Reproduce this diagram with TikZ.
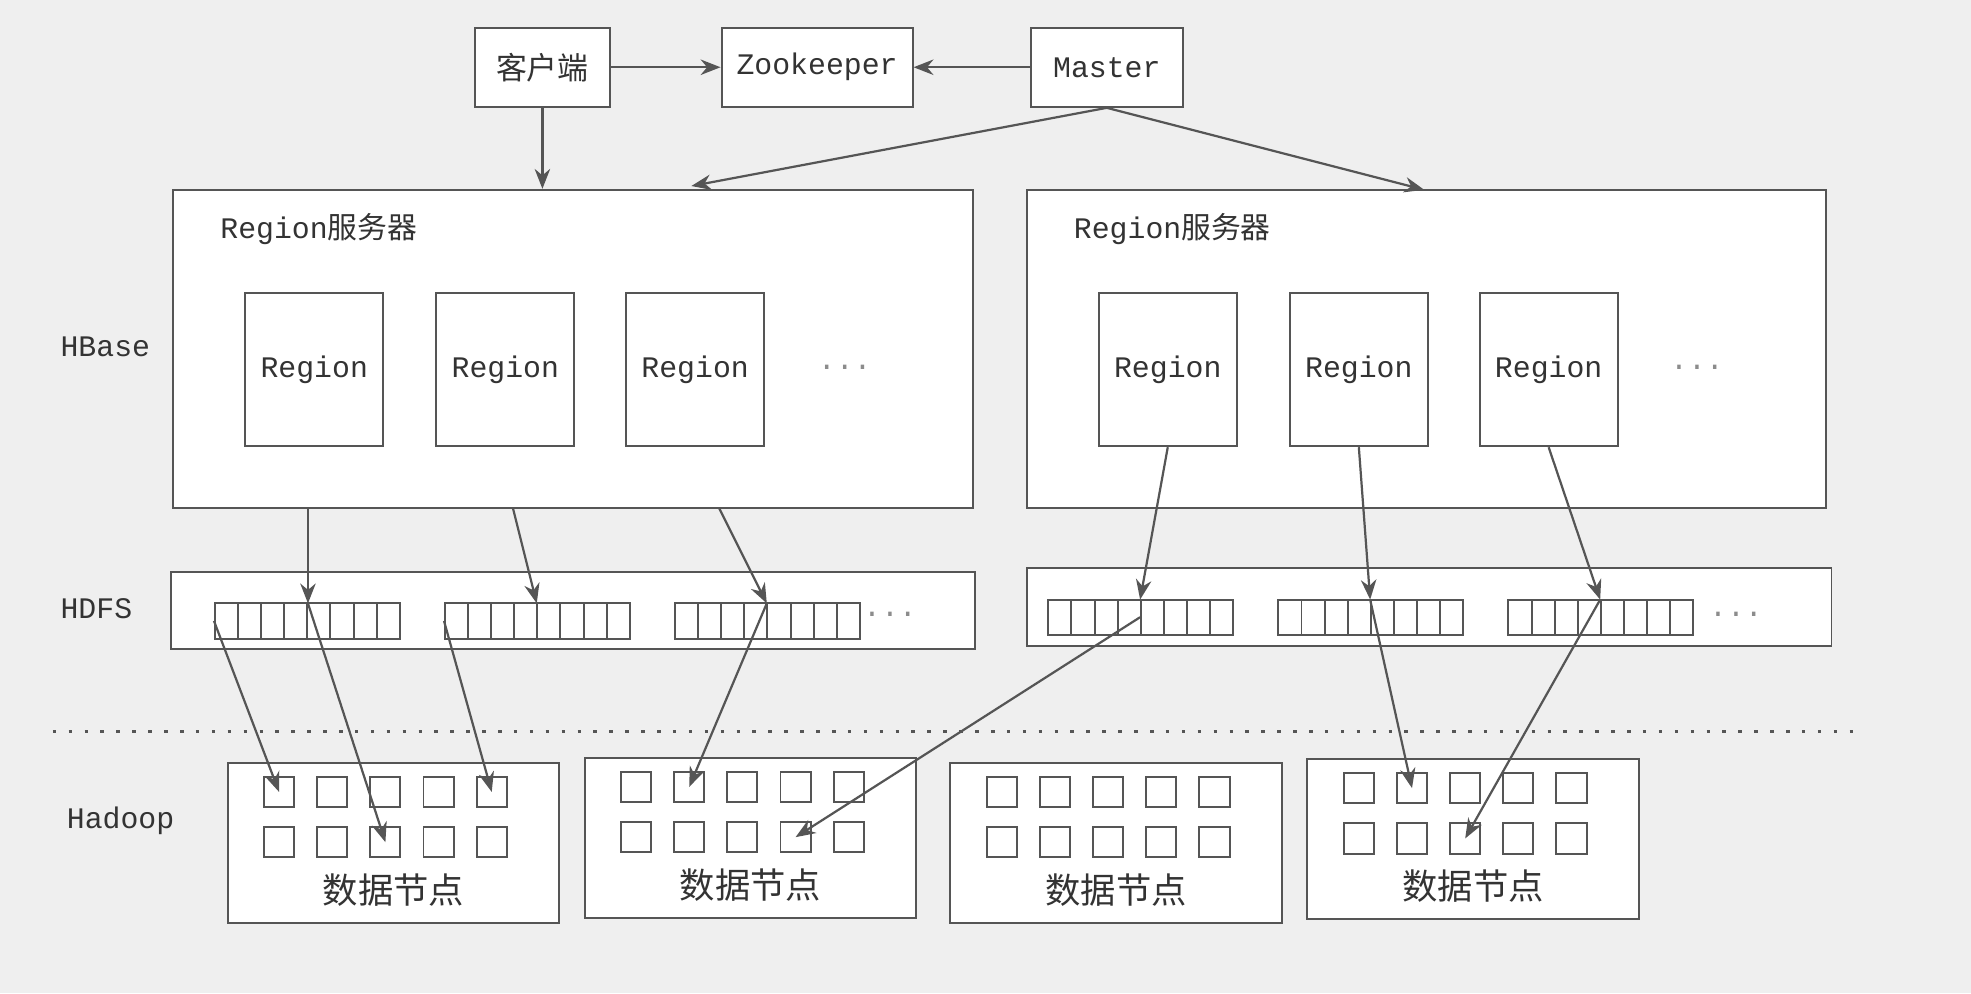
\documentclass[tikz,border=0pt]{standalone}
\usepackage{fontspec}
\setmainfont{Liberation Mono}
\newfontfamily\cjk{Noto Sans CJK SC}
\usetikzlibrary{arrows.meta}
\definecolor{ln}{HTML}{555555}
\definecolor{bg}{HTML}{EFEFEF}
\begin{document}
\begin{tikzpicture}[x=0.02cm,y=-0.02cm,
  box/.style={draw=ln,fill=white,line width=0.9pt,inner sep=0pt},
  txt/.style={font=\fontsize{13.5}{15}\selectfont,text=black!80},
  ctxt/.style={font=\cjk\fontsize{14}{16}\selectfont,text=black!80},
  arr/.style={draw=ln,line width=1pt,-{Stealth[length=9pt,width=7pt]}},
  cell/.style={draw=ln,line width=0.9pt}]
\fill[bg] (0,0) rectangle (1568,790);
\newcommand\bx[6]{\node[box,minimum width={(#4-#2)*0.02cm},minimum height={(#5-#3)*0.02cm},#6] (#1) at ({(#2+#4)/2},{(#3+#5)/2}) {};}
% top row
\bx{cli}{378}{22}{485}{85}{}
\node[ctxt] at (cli) {客户端};
\bx{zk}{574}{22}{726}{85}{}
\node[txt] at (zk) {Zookeeper};
\bx{ms}{820}{22}{941}{85}{}
\node[txt] at (ms) {Master};
% region servers
\bx{rs1}{138}{151}{774}{404}{}
\bx{rs2}{817}{151}{1453}{404}{}
\node[txt,anchor=west,inner sep=0pt] at (175,182) {Region{\cjk 服务器}};
\node[txt,anchor=west,inner sep=0pt] at (854,182) {Region{\cjk 服务器}};
\foreach \n/\x in {r1/195,r2/347,r3/498,r4/874,r5/1026,r6/1177}{
  \node[box,minimum width=2.2cm,minimum height=2.44cm,txt] (\n) at (\x+55,294) {Region};}
\node[txt,text=black!45] at (672,292) {...};
\node[txt,text=black!45] at (1350,292) {...};
% labels
\node[txt,anchor=west] at (42,276) {HBase};
\node[txt,anchor=west] at (42,484) {HDFS};
\node[txt,anchor=west] at (47,653) {Hadoop};
% HDFS
\bx{h1}{136}{455}{776}{516}{}
\bx{h2}{817}{452}{1457}{514}{}
\foreach \n/\x/\y in {a1/171/494,a2/354/494,a3/537/494,a4/834/491,a5/1017/491,a6/1200/491}{
  \node[box,minimum width=2.94cm,minimum height=0.56cm] (\n) at (\x+73.5,\y) {};
  \foreach \k in {1,...,7}{\draw[cell] (\x+\k*18.375,\y-14) -- (\x+\k*18.375,\y+14);}}
\node[txt,text=black!45] at (708,489) {...};
\node[txt,text=black!45] at (1381,489) {...};
% dotted line
\draw[ln,line width=1.6pt,dash pattern=on 1.6pt off 5.6pt] (42,582) -- (1480,582);
% data nodes
\foreach \d/\x/\y in {1/181/607,2/465/603,3/756/607,4/1040/604}{
  \node[box,minimum width=5.28cm,minimum height=2.54cm] (d\d) at (\x+132,\y+63.5) {};
  \node[ctxt,font=\cjk\fontsize{16}{18}\selectfont] at (\x+132,\y+101) {数据节点};
  \foreach \c in {1,...,5}{
    \node[box,minimum width=0.48cm,minimum height=0.48cm] (d\d s1\c) at ({\x+29+(\c-1)*42.3+12},\y+23) {};
    \node[box,minimum width=0.48cm,minimum height=0.48cm] (d\d s2\c) at ({\x+29+(\c-1)*42.3+12},\y+63) {};}}
% top arrows
\draw[arr] (cli.east) -- (zk.west);
\draw[arr] (ms.west) -- (zk.east);
\draw[arr] (cli.south) -- (cli.south |- rs1.north);
\coordinate (t1) at (550,148);
\coordinate (t2) at (1133,151);
\draw[arr] (ms.south) -- (t1);
\draw[arr] (ms.south) -- (t2);
% HBase -> HDFS
\draw[arr] (245,404) -- (245,480);
\draw[arr] (408,404) -- (427,480);
\draw[arr] (572,404) -- (610,480);
\draw[arr] (r4.south) -- (907,477);
\draw[arr] (r5.south) -- (1090,477);
\draw[arr] (r6.south) -- (1273,477);
% HDFS -> data nodes
\draw[arr] (a1.west) -- (d1s11.center);
\draw[arr] (245,480) -- (d1s23.center);
\draw[arr] (a2.west) -- (d1s15.center);
\draw[arr] (610,480) -- (d2s12.center);
\draw[arr] (907,491) -- (d2s24.center);
\draw[arr] (1090,477) -- (d4s12.center);
\draw[arr] (1273,477) -- (d4s23.center);
\end{tikzpicture}
\end{document}
